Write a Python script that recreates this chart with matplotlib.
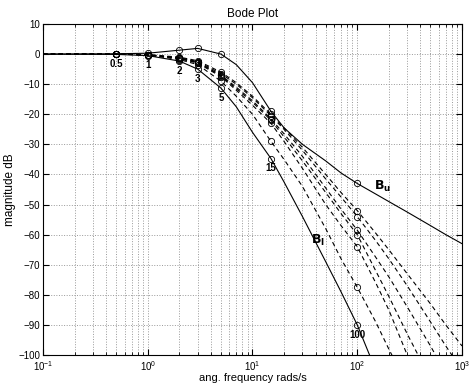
import matplotlib
matplotlib.use("Agg")
import matplotlib.pyplot as plt
import numpy as np
from matplotlib.ticker import LogLocator, NullFormatter, MultipleLocator

plt.rcParams["font.family"] = ["Liberation Sans", "DejaVu Sans"]

# frequency grid (rad/s) the values below were read at
freq = [0.1, 0.5, 1, 2, 3, 5, 7, 10, 15, 20, 30, 50, 70, 100, 150, 200, 300, 500, 700, 1000]

# upper / lower bounds (solid)
b_upper = [0, 0.1, 0.3, 1.3, 1.9, 0, -3.5, -9.5, -19, -24.5, -30, -35.5, -39.5, -43,
           -46.5, -49, -52.5, -57, -60, -63]
b_lower = [0, -0.1, -0.5, -2.3, -5, -11.3, -17.5, -26, -34.7, -42.5, -54, -69, -79, -90,
           -105, -115, -130, -150, -160, -170]

# dashed family between the bounds
dashed = [
    [0, 0, -0.2, -1.0, -2.2, -6, -9.5, -14, -20, -24.5, -31, -40, -46, -52,
     -59.5, -65, -73, -83, -90, -97],
    [0, 0, -0.2, -1.2, -2.5, -6.5, -10, -14.5, -20.5, -25, -32, -41.5, -47.5, -54,
     -62, -68, -77, -89, -97, -105],
    [0, 0, -0.2, -1.3, -2.7, -7, -11, -15.5, -21.5, -26.5, -34, -44.5, -51.5, -58.5,
     -67.5, -74, -84, -97, -106, -115],
    [0, 0, -0.3, -1.4, -2.8, -7.2, -11.5, -16, -22, -27.5, -35.5, -46, -53, -60,
     -72, -80.5, -93, -108, -118, -128],
    [0, 0, -0.3, -1.5, -3, -7.5, -12, -17, -23, -29, -38, -50, -57, -64,
     -76, -85, -100, -118, -130, -142],
    [0, 0, -0.3, -1.8, -3.5, -9, -14, -20, -29, -35, -44, -58, -68, -77.5,
     -89, -98, -110, -128, -140, -152],
]

mark_freq = [0.5, 1, 2, 3, 5, 15, 100]
mark_text = ["0.5", "1", "2", "3", "5", "15", "100"]

fig = plt.figure(figsize=(4.74, 3.86), dpi=100)
ax = fig.add_axes([0.0907, 0.0803, 0.884, 0.8575])

w = np.array(freq)
idx = [freq.index(f) for f in mark_freq]

curves = [(b_upper, "-"), (b_lower, "-")] + [(d, (0, (4, 3))) for d in dashed]
for vals, ls in curves:
    v = np.array(vals)
    ax.plot(w, v, color="black", lw=0.8, linestyle=ls)
    ax.plot(w[idx], v[idx], "o", ms=4.5, mfc="none", mec="black", mew=0.6)

for f, t in zip(mark_freq, mark_text):
    ax.annotate(t, (f, b_lower[freq.index(f)]), xytext=(0, -7),
                textcoords="offset points", ha="center", va="center",
                fontsize=7, fontweight="bold")

ax.text(145, -44, r"$\mathbf{B_u}$", fontsize=9, ha="left", va="center")
ax.text(36, -62, r"$\mathbf{B_l}$", fontsize=9, ha="left", va="center")

ax.set_xscale("log")
ax.set_xlim(0.1, 1000)
ax.set_ylim(-100, 10)
ax.yaxis.set_major_locator(MultipleLocator(10))
ax.xaxis.set_major_locator(LogLocator(base=10))
ax.xaxis.set_minor_locator(LogLocator(base=10, subs=np.arange(2, 10)))
ax.xaxis.set_minor_formatter(NullFormatter())
ax.tick_params(which="both", direction="in", top=True, right=True, labelsize=7)
ax.tick_params(axis="x", pad=3)
ax.tick_params(axis="y", pad=2)
ax.tick_params(which="major", length=4)
ax.tick_params(which="minor", length=2)
ax.grid(which="major", color="#999999", linestyle=":", lw=0.7)
ax.grid(which="minor", axis="x", color="#999999", linestyle=":", lw=0.7)

ax.set_title("Bode Plot", fontsize=8.5, pad=5)
ax.set_xlabel("ang. frequency rads/s", fontsize=8)
ax.set_ylabel("magnitude dB", fontsize=8.5)
ax.xaxis.set_label_coords(0.5, -0.053)
ax.yaxis.set_label_coords(-0.064, 0.5)

fig.savefig("out.png", dpi=100)
